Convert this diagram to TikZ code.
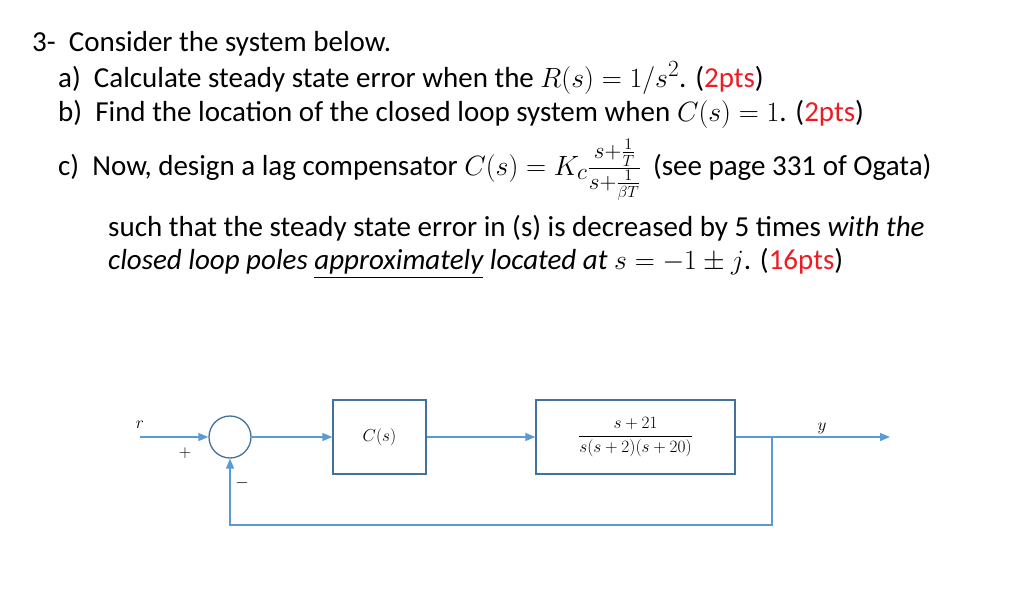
\documentclass[tikz,border=0pt]{standalone}
\usepackage{fontspec}
\setmainfont{Carlito}
\usepackage{amsmath}
\usetikzlibrary{arrows.meta}
\definecolor{ln}{RGB}{91,155,213}
\definecolor{bx}{RGB}{65,113,156}
\definecolor{rd}{RGB}{237,28,36}
\newcommand{\bm}[1]{\scalebox{1.12}{$#1$}}
\begin{document}
\begin{tikzpicture}[x=1pt,y=-1pt,
  txt/.style={anchor=west,inner sep=0pt,font=\fontsize{29}{32}\selectfont},
  blk/.style={draw=bx,line width=1.3pt,inner sep=0pt},
  wire/.style={draw=ln,line width=1.3pt},
  arr/.style={wire,-{Triangle[length=10pt,width=8pt]}},
  lab/.style={font=\fontsize{17}{20}\selectfont,inner sep=0pt}]
\useasboundingbox (0,0) rectangle (1024,605);
\node[txt] (t0) at (32,44) {3-\ \ Consider the system below.};
\node[txt] (ta) at (58,78) {a)\ \ Calculate steady state error when the \bm{R(s)=1/s^2}. (\textcolor{rd}{2pts})};
\node[txt] (tb) at (58,114) {b)\ \ Find the location of the closed loop system when \bm{C(s)=1}. (\textcolor{rd}{2pts})};
\node[txt] (tc) at (58,170) {c)\ \ Now, design a lag compensator \bm{C(s)=K_c\frac{s+\frac{1}{T}}{s+\frac{1}{\beta T}}}\,\ (see page 331 of Ogata)};
\node[txt] (td) at (108,228) {such that the steady state error in (s) is decreased by 5 times \textit{with the}};
\node[txt] (te) at (108,264) {\textit{closed loop poles \underline{approximately} located at} \bm{s=-1\pm j}. (\textcolor{rd}{16pts})};

\coordinate (in) at (140,437);
\node[circle,draw=bx,line width=1.3pt,minimum size=42pt,inner sep=0pt] (sum) at (230,437) {};
\node[blk,minimum width=93pt,minimum height=74pt] (c) at (379.5,437) {};
\node[lab] at (c) {$C(s)$};
\node[blk,minimum width=199pt,minimum height=74pt] (g) at (635.5,437) {};
\node[lab] at (g) {$\dfrac{s+21}{s(s+2)(s+20)}$};
\coordinate (out) at (890,437);
\coordinate (br) at (772,437);
\coordinate (fb1) at (772,525);
\coordinate (fb2) at (230,525);
\draw[arr] (in) -- (sum.west);
\draw[arr] (sum.east) -- (c.west);
\draw[arr] (c.east) -- (g.west);
\draw[arr] (g.east) -- (out);
\draw[arr] (br) -- (fb1) -- (fb2) -- (sum.south);
\node[lab] (r) at (140,425) {$r$};
\node[lab] (p) at (185,453) {$+$};
\node[lab] (y) at (822,428) {$y$};
\node[lab] (m) at (242,483) {$-$};
\end{tikzpicture}
\end{document}
